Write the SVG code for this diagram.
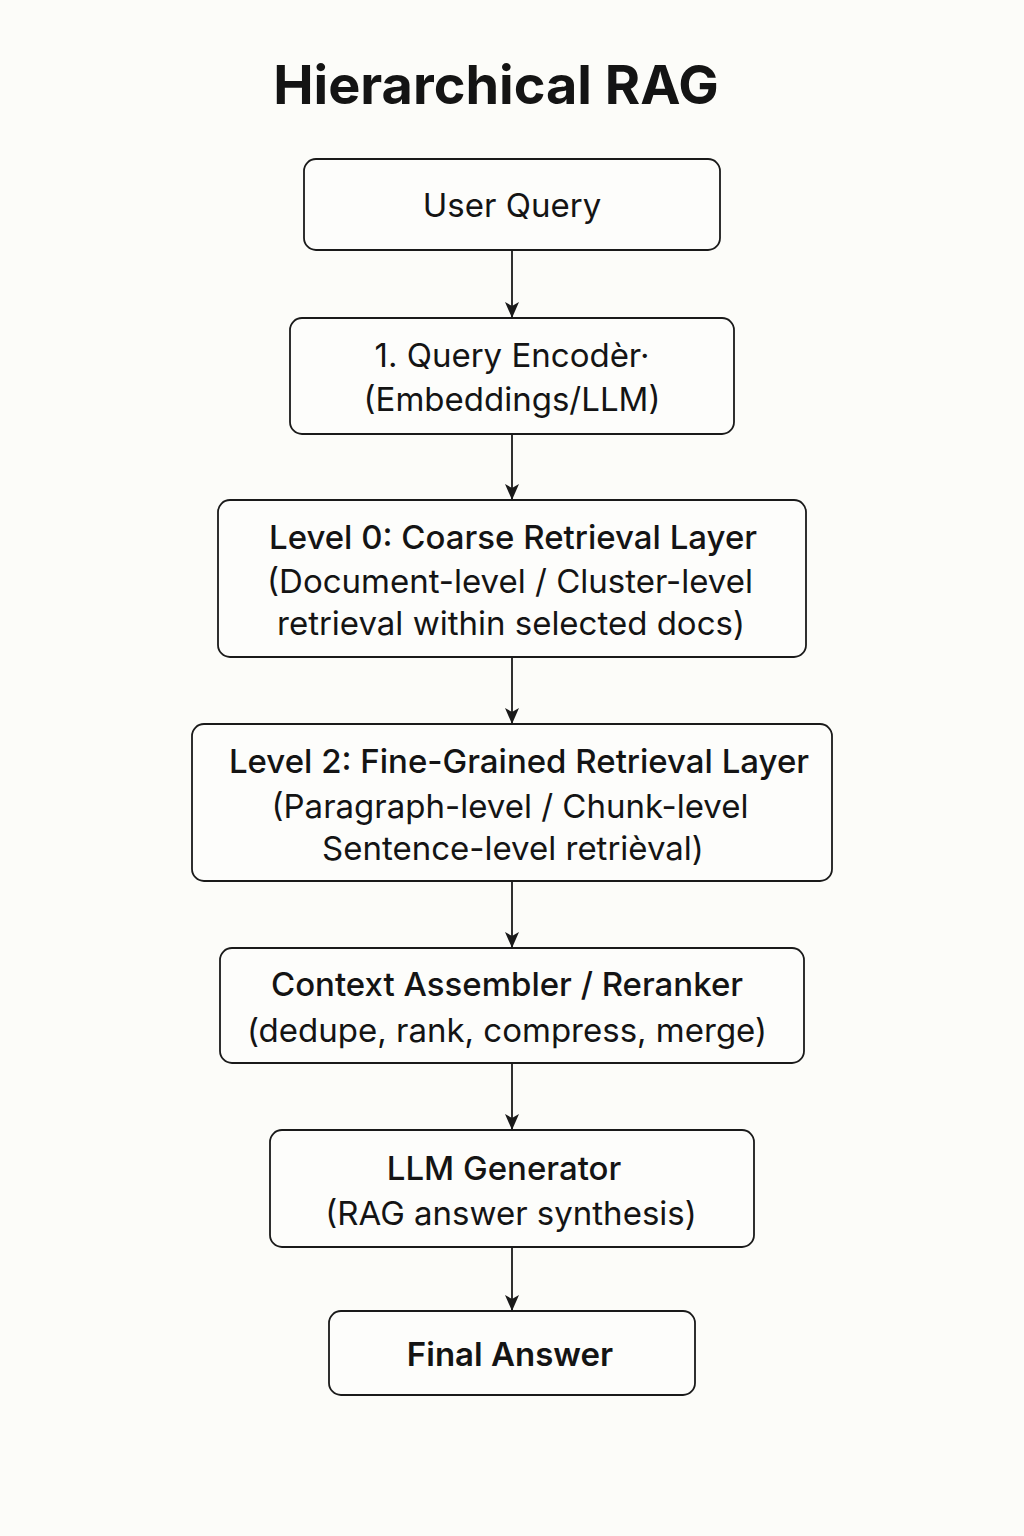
<svg xmlns="http://www.w3.org/2000/svg" width="1024" height="1536" viewBox="0 0 1024 1536">
<style>
.b{fill:#fdfdfb;stroke:#1a1a1a;stroke-width:1.8}
.t{font-family:"Inter","Liberation Sans",sans-serif;fill:#141414;text-anchor:middle;font-size:33px}
.h{font-weight:500}
.c{stroke:#1a1a1a;stroke-width:1.8;fill:none;marker-end:url(#a)}
</style>
<defs><marker id="a" viewBox="0 0 16 14" refX="15" refY="7" markerWidth="16" markerHeight="14" markerUnits="userSpaceOnUse" orient="auto"><path d="M0,0L16,7L0,14L4,7z" fill="#1a1a1a"/></marker></defs>
<rect width="1024" height="1536" fill="#fcfcf9"/>
<text x="496" y="104" class="t" style="font-size:54px;font-weight:700">Hierarchical RAG</text>
<g id="n1"><rect class="b" x="304" y="159" width="416" height="91" rx="12"/><text class="t" x="512" y="217">User Query</text></g>
<g id="n2"><rect class="b" x="290" y="318" width="444" height="116" rx="12"/><text class="t" x="512" y="367">1. Query Encodèr·</text><text class="t" x="512" y="411">(Embeddings/LLM)</text></g>
<g id="n3"><rect class="b" x="218" y="500" width="588" height="157" rx="12"/><text class="t h" x="513" y="549">Level 0: Coarse Retrieval Layer</text><text class="t" x="510" y="593">(Document-level / Cluster-level</text><text class="t" x="511" y="635">retrieval within selected docs)</text></g>
<g id="n4"><rect class="b" x="192" y="724" width="640" height="157" rx="12"/><text class="t h" x="519" y="773">Level 2: Fine-Grained Retrieval Layer</text><text class="t" x="510" y="818">(Paragraph-level / Chunk-level</text><text class="t" x="513" y="860">Sentence-level retrièval)</text></g>
<g id="n5"><rect class="b" x="220" y="948" width="584" height="115" rx="12"/><text class="t h" x="507" y="996">Context Assembler / Reranker</text><text class="t" x="507" y="1042">(dedupe, rank, compress, merge)</text></g>
<g id="n6"><rect class="b" x="270" y="1130" width="484" height="117" rx="12"/><text class="t h" x="504" y="1180">LLM Generator</text><text class="t" x="511" y="1225">(RAG answer synthesis)</text></g>
<g id="n7"><rect class="b" x="329" y="1311" width="366" height="84" rx="12"/><text class="t" style="font-weight:600" x="510" y="1366">Final Answer</text></g>
<g id="connectors">
<path class="c" d="M512 250V317"/><path class="c" d="M512 434V499"/><path class="c" d="M512 657V723"/><path class="c" d="M512 881V947"/><path class="c" d="M512 1063V1129"/><path class="c" d="M512 1247V1310"/>
</g>
</svg>
